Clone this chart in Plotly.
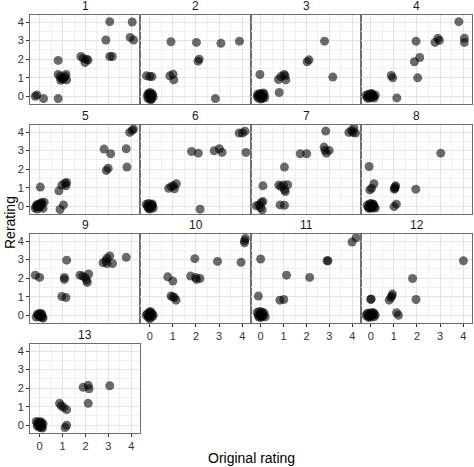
import plotly.graph_objects as go

# Original rating (x) vs rerating (y), one panel per rater
p1_x = [-0.19, -0.12, 0.17, 0.81, 0.81, 0.81, 0.89, 0.97, 1.04, 1.11, 1.18, 1.15, 1.01, 0.92,
        1.80, 1.90, 1.98, 2.05, 2.11, 2.89, 3.06, 3.06, 3.17, 3.95, 4.04, 4.10]
p1_y = [0.0, 0.07, -0.13, -0.13, 1.93, 1.17, 1.06, 0.95, 0.92, 1.06, 0.88, 1.17, 0.99, 0.86,
        2.14, 2.04, 1.82, 2.0, 1.95, 3.03, 4.02, 2.14, 2.14, 3.17, 4.0, 3.03]

p2_x = [-0.14, 0.0, 0.1, 0.92, 0.87, 1.01, 1.04, 2.02, 2.09, 2.14, 2.84, 3.08, 3.88,
        -0.1, -0.05, 0.0, 0.05, 0.1, 0.15, -0.08, 0.02, 0.08, 0.12, -0.02, 0.04, 0.0]
p2_y = [1.10, 1.06, 1.06, 2.94, 1.10, 1.19, 0.88, 2.9, 1.89, 2.0, -0.13, 2.85, 2.97,
        0.05, 0.15, -0.1, 0.0, 0.12, -0.05, -0.12, 0.2, -0.15, 0.08, 0.02, -0.2, 0.1]

p3_x = [-0.03, 0.12, 0.81, 0.78, 0.88, 1.02, 1.10, 1.07, 2.03, 2.11, 2.79, 3.15,
        -0.15, -0.1, -0.05, 0.0, 0.05, 0.1, 0.15, -0.12, -0.02, 0.08, 0.18, 0.0]
p3_y = [1.17, 0.18, 0.2, 0.9, 1.06, 1.17, 0.88, 1.10, 1.86, 1.96, 2.97, 1.03,
        0.0, -0.1, 0.08, -0.15, 0.05, -0.05, 0.1, 0.12, 0.0, -0.12, -0.08, 0.15]

p4_x = [0.89, 0.95, 1.13, 1.96, 1.89, 2.12, 2.03, 2.78, 2.90, 2.97, 3.81, 4.05, 4.05,
        -0.2, -0.15, -0.1, -0.05, 0.0, 0.05, 0.1, 0.15, 0.2, -0.12, 0.02, 0.12]
p4_y = [1.12, 0.99, -0.09, 2.97, 1.86, 2.09, 0.99, 2.9, 3.12, 3.01, 4.02, 3.12, 2.9,
        0.05, -0.05, 0.1, 0.0, -0.08, 0.12, 0.02, -0.1, 0.06, -0.12, 0.15, 0.0]

p5_x = [0.03, 0.2, 0.84, 0.89, 1.04, 0.97, 1.11, 1.15, 1.18, 2.81, 3.10, 2.91, 2.99, 3.78,
        3.81, 3.93, 4.04, 4.10,
        -0.2, -0.15, -0.1, -0.05, 0.0, 0.05, 0.1, 0.15, -0.12, 0.02, 0.08, -0.02]
p5_y = [1.03, 0.22, 0.83, -0.18, 0.07, 1.14, 1.24, 1.1, 1.28, 3.08, 2.83, 1.93, 2.05, 3.1,
        2.11, 3.98, 4.09, 4.16,
        -0.1, 0.0, -0.15, 0.1, 0.05, 0.15, 0.2, -0.12, 0.08, -0.05, 0.1, 0.0]

p6_x = [0.82, 0.93, 1.03, 1.15, 1.07, 1.81, 2.10, 2.18, 2.79, 3.01, 3.13, 3.87, 4.01, 4.12, 4.16,
        -0.15, -0.1, -0.05, 0.0, 0.05, 0.1, 0.15, -0.05, 0.05, 0.12, 0.0, 0.08]
p6_y = [0.97, 1.06, 1.10, 1.21, 0.94, 2.95, 2.86, -0.16, 2.99, 3.10, 2.90, 3.95, 3.95, 4.04, 2.90,
        0.1, 0.0, 0.15, -0.05, 0.08, 0.12, -0.1, -0.12, 0.0, 0.05, -0.15, -0.05]

p7_x = [-0.19, -0.07, 0.03, 0.1, -0.01, 0.07, 0.1, 0.79, 0.89, 1.0, 1.18, 1.04, 1.08, 0.85,
        1.04, 1.04, 1.73, 2.01, 2.77, 2.81, 2.87, 2.99, 2.84, 3.85, 3.97, 4.07, 4.14, 4.03]
p7_y = [0.02, 0.07, 0.2, 0.25, -0.07, -0.2, 1.1, 1.14, 1.06, 1.14, 1.16, 0.88, 0.79, 0.07,
        0.05, 2.11, 2.83, 2.83, 3.19, 3.01, 2.86, 3.01, 4.05, 3.98, 4.09, 4.22, 3.95, 3.98]

p8_x = [-0.07, 0.04, 0.14, -0.04, 1.05, 1.02, 1.08, 1.04, 1.01, 1.11, 1.95, 3.03,
        -0.15, -0.1, -0.05, 0.0, 0.05, 0.1, 0.15, 0.2, -0.08, 0.02, 0.1, 0.0, 0.12]
p8_y = [2.14, 0.97, 1.21, 0.88, 1.03, 0.92, 1.1, 0.97, -0.02, 0.11, 0.92, 2.86,
        0.05, -0.05, 0.12, 0.0, -0.1, 0.08, -0.05, -0.1, -0.12, 0.15, 0.02, -0.08, 0.1]

p9_x = [-0.19, 0.0, 0.97, 1.15, 1.08, 1.08, 1.18, 1.76, 1.88, 1.98, 2.05, 2.08, 2.14, 2.77,
        2.89, 2.94, 3.06, 3.18, 2.94, 3.78,
        -0.15, -0.1, -0.05, 0.0, 0.05, 0.1, 0.15, -0.02, 0.08, 0.12]
p9_y = [2.16, 2.04, 1.01, 0.95, 1.93, 2.04, 2.97, 2.16, 2.11, 2.04, 1.89, 1.77, 2.22, 2.83,
        2.94, 3.07, 3.2, 2.79, 2.79, 3.12,
        -0.1, 0.05, 0.0, 0.1, -0.05, 0.02, -0.15, -0.08, 0.08, -0.12]

p10_x = [0.78, 1.0, 1.0, 1.07, 1.14, 0.92, 1.77, 1.99, 2.17, 2.02, 1.95, 2.93, 3.95, 4.14, 4.10, 4.10,
         -0.15, -0.1, -0.05, 0.0, 0.05, 0.1, 0.15, -0.05, 0.02, 0.1, 0.0]
p10_y = [2.07, 1.84, 0.99, 0.95, 0.81, 1.03, 2.11, 2.04, 1.98, 1.93, 3.05, 2.90, 2.85, 4.14, 3.91, 4.02,
         0.0, 0.08, -0.05, 0.15, 0.05, -0.08, 0.0, -0.12, 0.2, 0.1, -0.2]

p11_x = [0.0, -0.1, 0.84, 1.01, 1.13, 2.14, 2.90, 2.94, 3.99, 4.17,
         -0.15, -0.1, -0.05, 0.0, 0.05, 0.1, 0.15, 0.2, -0.08, 0.02, 0.1, 0.0, 0.05]
p11_y = [3.03, 1.03, 0.81, 0.85, 2.16, 2.04, 2.94, 2.94, 3.95, 4.18,
         0.15, 0.0, 0.2, 0.05, 0.1, -0.05, 0.12, -0.08, -0.1, -0.12, 0.02, -0.05, 0.18]

p12_x = [0.0, 0.02, 0.80, 0.87, 0.94, 0.91, 1.12, 1.20, 1.81, 1.96, 4.01,
         -0.2, -0.15, -0.1, -0.05, 0.0, 0.05, 0.1, 0.15, 0.2, -0.1, 0.0, 0.08, -0.02, 0.12]
p12_y = [0.85, 0.88, 0.81, 0.95, 1.14, 1.03, 0.13, 0.0, 1.98, 0.85, 2.94,
         0.0, 0.1, -0.05, 0.12, -0.1, 0.05, 0.15, -0.08, 0.02, -0.12, 0.08, -0.02, 0.0, 0.1]

p13_x = [0.87, 0.94, 1.04, 1.18, 1.11, 1.18, 1.90, 2.12, 2.16, 2.12, 3.06,
         -0.15, -0.1, -0.05, 0.0, 0.05, 0.1, 0.15, -0.1, 0.0, 0.08, 0.12, -0.05, 0.03, 0.05]
p13_y = [1.18, 1.05, 0.96, 0.84, -0.13, 0.0, 2.05, 2.15, 1.96, 1.18, 2.13,
         0.2, 0.1, 0.15, 0.0, 0.05, -0.1, 0.08, -0.05, -0.12, 0.12, -0.15, 0.0, 0.2, -0.05]

panel_labels = ["1", "2", "3", "4", "5", "6", "7", "8", "9", "10", "11", "12", "13"]
tick_vals = [0, 1, 2, 3, 4]

panels_x = [p1_x, p2_x, p3_x, p4_x, p5_x, p6_x, p7_x, p8_x, p9_x, p10_x, p11_x, p12_x, p13_x]
panels_y = [p1_y, p2_y, p3_y, p4_y, p5_y, p6_y, p7_y, p8_y, p9_y, p10_y, p11_y, p12_y, p13_y]

W, H = 474, 467
col_edges = [30, 140, 251, 361, 472]
row_tops = [15, 125, 234, 344]
row_h = 89

FONT = "Liberation Sans, Arial, sans-serif"

fig = go.Figure()
layout = {}
annotations = []

for i, (xs, ys) in enumerate(zip(panels_x, panels_y)):
    r, c = divmod(i, 4)
    n = "" if i == 0 else str(i + 1)
    fig.add_trace(go.Scatter(
        x=xs, y=ys, mode="markers",
        xaxis="x" + n, yaxis="y" + n,
        marker=dict(size=9, color="rgba(0,0,0,0.58)", line=dict(width=0)),
        showlegend=False, hoverinfo="x+y"))

    # x labels only on the lowest panel of each column
    show_x = i + 4 > 12
    show_y = c == 0
    x0 = col_edges[c] / W
    x1 = col_edges[c + 1] / W
    y1 = 1 - row_tops[r] / H
    y0 = 1 - (row_tops[r] + row_h) / H

    common = dict(
        range=[-0.42, 4.38], tickvals=tick_vals, showgrid=True,
        gridcolor="#e3e3e3", gridwidth=1,
        minor=dict(dtick=0.5, tick0=0, showgrid=True, gridcolor="#f0f0f0", gridwidth=0.6),
        zeroline=False, showline=True, mirror=True, linecolor="#6e6e6e", linewidth=1,
        ticklen=3, tickcolor="#333333",
        tickfont=dict(family=FONT, size=11, color="#333333"), fixedrange=True)

    layout["xaxis" + n] = dict(common, domain=[x0, x1], anchor="y" + n,
                               showticklabels=show_x, ticks="outside" if show_x else "")
    layout["yaxis" + n] = dict(common, domain=[y0, y1], anchor="x" + n,
                               showticklabels=show_y, ticks="outside" if show_y else "")

    annotations.append(dict(
        text=panel_labels[i], x=(x0 + x1) / 2, y=y1, xref="paper", yref="paper",
        xanchor="center", yanchor="bottom", yshift=0, showarrow=False,
        font=dict(family=FONT, size=12, color="#1a1a1a")))

annotations.append(dict(
    text="Original rating", x=251 / W, y=1 - 457.5 / H, xref="paper", yref="paper",
    xanchor="center", yanchor="middle", showarrow=False,
    font=dict(family=FONT, size=14, color="#000000")))
annotations.append(dict(
    text="Rerating", x=10 / W, y=1 - 223 / H, xref="paper", yref="paper",
    xanchor="center", yanchor="middle", textangle=-90, showarrow=False,
    font=dict(family=FONT, size=14, color="#000000")))

fig.update_layout(
    width=W, height=H,
    margin=dict(l=0, r=0, t=0, b=0),
    paper_bgcolor="white", plot_bgcolor="white",
    annotations=annotations,
    **layout)

# drop the page's default body margin so the figure sits at the window's corner
fig.write_html("out.html", config={"displayModeBar": False},
               post_script="document.body.style.margin='0';")
